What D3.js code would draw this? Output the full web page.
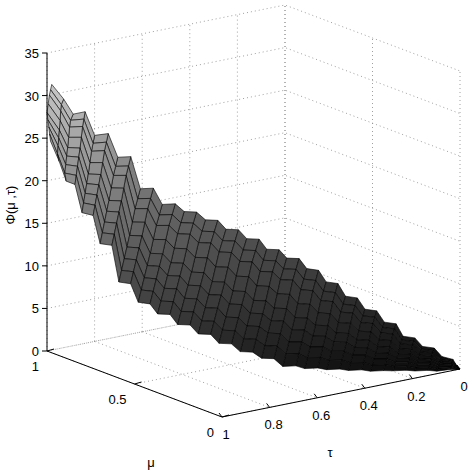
<!DOCTYPE html>
<html><head><meta charset="utf-8">
<script src="https://cdn.jsdelivr.net/npm/d3@7"></script>
<style>body{margin:0;background:#fff}svg{display:block}text{font-family:"Liberation Sans",Arial,sans-serif;font-size:13px}</style>
</head><body><svg id="chart" width="474" height="473"></svg>
<script>
// surface data, read along the diagonal u (mu = tau = u) and across it (v)
const uSteps = [1,0.97,0.95,0.92,0.9,0.87,0.85,0.82,0.8,0.77,0.75,0.72,0.7,0.67,0.65,0.62,0.6,0.57,0.55,0.52,0.5,0.47,0.45,0.42,0.4,0.37,0.35,0.32,0.3,0.27,0.25,0.22,0.2,0.17,0.15,0.12,0.1,0.07,0.05,0.02,0];
const zCenter = [28,26,24,24,21,21,18,18,14,14,12,12,11,11,10,10,9,9,8,8,7,7,6.2,6.2,5.2,5.2,4.4,4.4,3.6,3.6,2.9,2.9,2.2,2.2,1.5,1.5,1,1,0.5,0.5,0];
const bandWidth = [0.02,0.04,0.06,0.08,0.1,0.12,0.14,0.15,0.17,0.18,0.19,0.2,0.21,0.21,0.22,0.22,0.22,0.22,0.22,0.22,0.21,0.21,0.2,0.2,0.19,0.18,0.17,0.16,0.15,0.14,0.13,0.12,0.11,0.1,0.08,0.07,0.06,0.05,0.04,0.02,0.01];
const vSteps = [-1,-0.75,-0.5,-0.25,0,0.25,0.5,0.75,1];
const zCross = [-3.2,-2.4,-1.6,-0.8,0,1,2,2.6,3.2];
const zTicks = [0,5,10,15,20,25,30,35];
const muTicks = [0,0.5,1];
const tauTicks = [0,0.2,0.4,0.6,0.8,1];

const svg = d3.select('#chart');
// projection: origin at back corner (mu=1, tau=0, z=0)
const zScale = d3.scaleLinear().domain([0,35]).range([0,298]);
function P(mu, tau, z) {
  return [285 + (1-mu)*175 - tau*238, 303 + (1-mu)*66 + tau*48 - zScale(z)];
}
const line = pts => 'M' + pts.map(p => p.join(',')).join('L');

// grid on back walls and floor
const g = svg.append('g').attr('stroke','#888').attr('stroke-width',0.8).attr('stroke-dasharray','1,3').attr('fill','none');
zTicks.forEach(z => {
  g.append('path').attr('d', line([P(1,1,z),P(1,0,z),P(0,0,z)]));
});
tauTicks.forEach(t => {
  g.append('path').attr('d', line([P(1,t,0),P(1,t,35)]));
  g.append('path').attr('d', line([P(1,t,0),P(0,t,0)]));
});
muTicks.forEach(m => {
  g.append('path').attr('d', line([P(m,0,0),P(m,0,35)]));
  g.append('path').attr('d', line([P(m,0,0),P(m,1,0)]));
});

// surface quads
const color = d3.scaleLinear().domain([0,30]).range(['#0a0a0a','#c4c4c4']);
const quads = [];
for (let i = 0; i < uSteps.length-1; i++) {
  for (let j = 0; j < vSteps.length-1; j++) {
    const pt = (ii, jj) => {
      const u = uSteps[ii], w = bandWidth[ii], v = vSteps[jj];
      const mu = Math.min(1, Math.max(0, u + v*w)), tau = Math.min(1, Math.max(0, u - v*w));
      const z = Math.max(0, zCenter[ii] + zCross[jj]*Math.min(1, zCenter[ii]/5));
      return {mu, tau, z};
    };
    const c = [pt(i,j), pt(i+1,j), pt(i+1,j+1), pt(i,j+1)];
    const depth = d3.mean(c, d => d.mu - d.tau);
    const zm = d3.mean(c, d => d.z);
    quads.push({c, depth, zm});
  }
}
quads.sort((a,b) => b.depth - a.depth);
svg.append('g').selectAll('path').data(quads).join('path')
  .attr('d', d => line(d.c.map(p => P(p.mu,p.tau,p.z))) + 'Z')
  .attr('fill', d => color(d.zm)).attr('stroke','#000').attr('stroke-width',0.6);

// axes
const ax = svg.append('g').attr('stroke','#000').attr('stroke-width',1).attr('fill','none');
ax.append('path').attr('d', line([P(1,1,0),P(1,1,35)]));
ax.append('path').attr('d', line([P(1,1,0),P(0,1,0)]));
ax.append('path').attr('d', line([P(0,1,0),P(0,0,0)]));
zTicks.forEach(z => { const p = P(1,1,z); ax.append('path').attr('d', line([[p[0]-5,p[1]],p])); });
muTicks.forEach(m => { const p = P(m,1,0); ax.append('path').attr('d', line([p,[p[0]+7,p[1]-2]])); });
tauTicks.forEach(t => { const p = P(0,t,0); ax.append('path').attr('d', line([p,[p[0]-3,p[1]-4]])); });

zTicks.forEach(z => { const p = P(1,1,z);
  svg.append('text').attr('x', p[0]-8).attr('y', p[1]+5).attr('text-anchor','end').text(z); });
muTicks.forEach(m => { const p = P(m,1,0);
  svg.append('text').attr('x', p[0]-8).attr('y', p[1]+20).attr('text-anchor','end').text(m); });
tauTicks.forEach(t => { const p = P(0,t,0);
  svg.append('text').attr('x', p[0]+4).attr('y', p[1]+22).attr('text-anchor','middle').text(t); });
svg.append('text').attr('x',151).attr('y',467).attr('text-anchor','middle').text('μ');
svg.append('text').attr('x',330).attr('y',457).attr('text-anchor','middle').text('τ');
svg.append('text').attr('transform','translate(15,205) rotate(-90)').attr('text-anchor','middle').text('Φ(μ ,τ)');
</script></body></html>
